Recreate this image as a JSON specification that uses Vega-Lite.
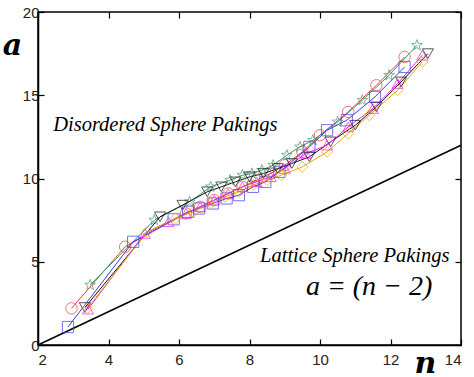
{
  "$schema": "https://vega.github.io/schema/vega-lite/v6.json",
  "width": 423,
  "height": 333,
  "autosize": "none",
  "padding": {"left": 38, "top": 12, "right": 13, "bottom": 32},
  "background": "white",
  "config": {
    "view": {"stroke": "black", "strokeWidth": 1.5},
    "axis": {
      "domainColor": "black", "domainWidth": 1.5,
      "tickColor": "black", "tickSize": -6, "tickWidth": 1.2,
      "labelFont": "Liberation Sans", "labelFontSize": 15, "labelColor": "#222",
      "grid": false
    }
  },
  "datasets": {
    "pts": [
      {"s": "red", "n": 2.95, "a": 2.2}, {"s": "red", "n": 4.47, "a": 5.9}, {"s": "red", "n": 6.2, "a": 7.9}, {"s": "red", "n": 6.6, "a": 8.3}, {"s": "red", "n": 7.0, "a": 8.7}, {"s": "red", "n": 7.4, "a": 9.1}, {"s": "red", "n": 7.8, "a": 9.5}, {"s": "red", "n": 8.2, "a": 9.9}, {"s": "red", "n": 8.6, "a": 10.3}, {"s": "red", "n": 9.0, "a": 10.8}, {"s": "red", "n": 9.5, "a": 11.6}, {"s": "red", "n": 10.0, "a": 12.6}, {"s": "red", "n": 10.8, "a": 14.0}, {"s": "red", "n": 11.6, "a": 15.6}, {"s": "red", "n": 12.4, "a": 17.3},
      {"s": "green", "n": 3.48, "a": 3.6}, {"s": "green", "n": 5.3, "a": 7.5}, {"s": "green", "n": 6.3, "a": 8.6}, {"s": "green", "n": 6.9, "a": 9.5}, {"s": "green", "n": 7.45, "a": 9.9}, {"s": "green", "n": 7.8, "a": 10.2}, {"s": "green", "n": 8.07, "a": 10.3}, {"s": "green", "n": 8.35, "a": 10.5}, {"s": "green", "n": 8.67, "a": 10.8}, {"s": "green", "n": 9.06, "a": 11.4}, {"s": "green", "n": 9.43, "a": 11.9}, {"s": "green", "n": 9.8, "a": 12.3}, {"s": "green", "n": 10.5, "a": 13.4}, {"s": "green", "n": 11.2, "a": 14.7}, {"s": "green", "n": 11.96, "a": 16.2}, {"s": "green", "n": 12.75, "a": 18.0},
      {"s": "blue", "n": 2.85, "a": 1.08}, {"s": "blue", "n": 4.7, "a": 6.2}, {"s": "blue", "n": 5.85, "a": 7.55}, {"s": "blue", "n": 6.26, "a": 8.0}, {"s": "blue", "n": 6.57, "a": 8.2}, {"s": "blue", "n": 6.96, "a": 8.5}, {"s": "blue", "n": 7.35, "a": 8.8}, {"s": "blue", "n": 7.7, "a": 9.0}, {"s": "blue", "n": 8.1, "a": 9.5}, {"s": "blue", "n": 8.45, "a": 9.8}, {"s": "blue", "n": 8.85, "a": 10.4}, {"s": "blue", "n": 9.7, "a": 11.9}, {"s": "blue", "n": 10.2, "a": 12.9}, {"s": "blue", "n": 10.76, "a": 13.5}, {"s": "blue", "n": 11.56, "a": 14.9}, {"s": "blue", "n": 12.4, "a": 16.7},
      {"s": "black", "n": 3.33, "a": 2.25}, {"s": "black", "n": 5.46, "a": 7.7}, {"s": "black", "n": 6.1, "a": 8.4}, {"s": "black", "n": 6.8, "a": 9.2}, {"s": "black", "n": 7.2, "a": 9.5}, {"s": "black", "n": 7.6, "a": 9.8}, {"s": "black", "n": 8.0, "a": 10.1}, {"s": "black", "n": 8.4, "a": 10.3}, {"s": "black", "n": 8.8, "a": 10.6}, {"s": "black", "n": 9.2, "a": 10.9}, {"s": "black", "n": 9.7, "a": 11.3}, {"s": "black", "n": 10.3, "a": 12.2}, {"s": "black", "n": 11.0, "a": 13.2}, {"s": "black", "n": 11.6, "a": 14.3}, {"s": "black", "n": 12.3, "a": 15.8}, {"s": "black", "n": 13.06, "a": 17.5},
      {"s": "magenta", "n": 3.42, "a": 2.15}, {"s": "magenta", "n": 5.03, "a": 6.7}, {"s": "magenta", "n": 5.7, "a": 7.4}, {"s": "magenta", "n": 6.2, "a": 7.9}, {"s": "magenta", "n": 6.6, "a": 8.3}, {"s": "magenta", "n": 7.0, "a": 8.7}, {"s": "magenta", "n": 7.4, "a": 9.1}, {"s": "magenta", "n": 7.8, "a": 9.5}, {"s": "magenta", "n": 8.2, "a": 9.8}, {"s": "magenta", "n": 8.6, "a": 10.1}, {"s": "magenta", "n": 9.0, "a": 10.6}, {"s": "magenta", "n": 9.6, "a": 11.5}, {"s": "magenta", "n": 10.2, "a": 12.0}, {"s": "magenta", "n": 10.8, "a": 13.1}, {"s": "magenta", "n": 11.5, "a": 14.2}, {"s": "magenta", "n": 12.2, "a": 15.7}, {"s": "magenta", "n": 12.9, "a": 17.4},
      {"s": "orange", "n": 3.4, "a": 2.2}, {"s": "orange", "n": 5.1, "a": 6.8}, {"s": "orange", "n": 5.9, "a": 7.6}, {"s": "orange", "n": 6.4, "a": 8.0}, {"s": "orange", "n": 6.9, "a": 8.5}, {"s": "orange", "n": 7.3, "a": 8.9}, {"s": "orange", "n": 7.7, "a": 9.2}, {"s": "orange", "n": 8.1, "a": 9.6}, {"s": "orange", "n": 8.5, "a": 9.9}, {"s": "orange", "n": 8.9, "a": 10.2}, {"s": "orange", "n": 9.5, "a": 10.7}, {"s": "orange", "n": 10.2, "a": 11.6}, {"s": "orange", "n": 10.8, "a": 12.7}, {"s": "orange", "n": 11.4, "a": 13.8}, {"s": "orange", "n": 12.2, "a": 15.3}, {"s": "orange", "n": 12.9, "a": 17.0}
    ],
    "lattice": [{"n": 2, "a": 0}, {"n": 14, "a": 12}],
    "notesSmall": [
      {"n": 2.43, "a": 13.2, "t": "Disordered Sphere Pakings"},
      {"n": 8.3, "a": 5.35, "t": "Lattice Sphere Pakings"}
    ],
    "notesBig": [
      {"n": 9.6, "a": 3.5, "t": "a  =  (n  −  2)"}
    ]
  },
  "resolve": {"axis": {"x": "independent", "y": "independent"}},
  "layer": [
    {
      "data": {"name": "lattice"},
      "mark": {"type": "line", "color": "black", "strokeWidth": 1.5},
      "encoding": {
        "x": {"field": "n", "type": "quantitative", "scale": {"domain": [2, 14], "nice": false},
              "axis": {"orient": "top", "labels": false, "title": null, "domain": false, "values": [2,4,6,8,10,12,14]}},
        "y": {"field": "a", "type": "quantitative", "scale": {"domain": [0, 20], "nice": false},
              "axis": {"orient": "right", "labels": false, "title": null, "domain": false, "values": [0,5,10,15,20]}}
      }
    },
    {
      "data": {"name": "pts"},
      "mark": {"type": "line", "strokeWidth": 1},
      "encoding": {
        "x": {"field": "n", "type": "quantitative",
              "axis": {"orient": "bottom", "values": [2,4,6,8,10,12,14], "labelPadding": 4,
                       "labelExpr": "['', datum.label]", "labelLineHeight": 9,
                       "title": "n", "titleFont": "DejaVu Serif", "titleFontStyle": "italic", "titleFontWeight": "bold",
                       "titleFontSize": 30, "titleX": 387, "titleY": 27, "titleAnchor": "middle", "titleBaseline": "alphabetic"}},
        "y": {"field": "a", "type": "quantitative",
              "axis": {"orient": "left", "values": [0,5,10,15,20], "labelPadding": 5,
                       "title": "a", "titleFont": "DejaVu Serif", "titleFontStyle": "italic", "titleFontWeight": "bold",
                       "titleFontSize": 30, "titleAngle": 0, "titleX": -26, "titleY": 42, "titleAlign": "center", "titleBaseline": "alphabetic"}},
        "color": {"field": "s", "type": "nominal", "legend": null,
                  "scale": {"domain": ["red","green","blue","black","magenta","orange"],
                            "range": ["#f03a3a","#3f9a6c","#3a3af0","#111111","#f020f0","#e8a800"]}}
      }
    },
    {
      "data": {"name": "pts"},
      "mark": {"type": "point", "filled": false, "strokeWidth": 1},
      "encoding": {
        "x": {"field": "n", "type": "quantitative", "axis": null},
        "y": {"field": "a", "type": "quantitative", "axis": null},
        "color": {"field": "s", "type": "nominal", "legend": null},
        "shape": {"field": "s", "type": "nominal", "legend": null,
                  "scale": {"domain": ["red","green","blue","black","magenta","orange"],
                            "range": ["circle","M0,-1L0.24,-0.33L0.95,-0.31L0.38,0.12L0.59,0.81L0,0.4L-0.59,0.81L-0.38,0.12L-0.95,-0.31L-0.24,-0.33Z","square","triangle-down","triangle-up","diamond"]}},
        "size": {"field": "s", "type": "nominal", "legend": null,
                 "scale": {"domain": ["red","green","blue","black","magenta","orange"],
                           "range": [130, 120, 95, 160, 120, 45]}}
      }
    },
    {
      "data": {"name": "notesSmall"},
      "mark": {"type": "text", "font": "Liberation Serif", "fontStyle": "italic", "fontSize": 20.5, "align": "left", "baseline": "middle", "color": "black"},
      "encoding": {
        "x": {"field": "n", "type": "quantitative", "axis": null},
        "y": {"field": "a", "type": "quantitative", "axis": null},
        "text": {"field": "t"}
      }
    },
    {
      "data": {"name": "notesBig"},
      "mark": {"type": "text", "font": "Liberation Serif", "fontStyle": "italic", "fontSize": 28, "align": "left", "baseline": "middle", "color": "black"},
      "encoding": {
        "x": {"field": "n", "type": "quantitative", "axis": null},
        "y": {"field": "a", "type": "quantitative", "axis": null},
        "text": {"field": "t"}
      }
    }
  ]
}
